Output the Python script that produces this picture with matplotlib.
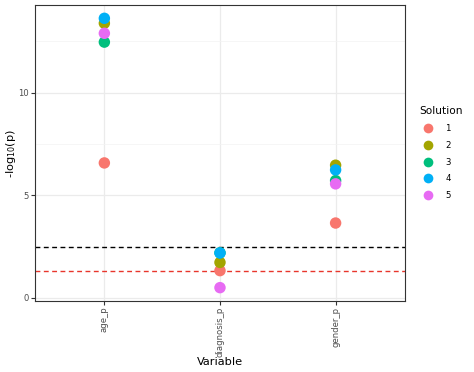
import numpy as np
import matplotlib
matplotlib.use('Agg')
import matplotlib.pyplot as plt
from matplotlib.lines import Line2D

variables = ['age_p', 'diagnosis_p', 'gender_p']
solutions = ['1', '2', '3', '4', '5']
colors = ['#F8766D', '#A3A500', '#00BF7D', '#00B0F6', '#E76BF3']

# -log10(p) for each solution, per variable (age, diagnosis, gender)
sol1 = [6.58, 1.33, 3.65]
sol2 = [13.39, 1.73, 6.47]
sol3 = [12.47, 2.20, 5.72]
sol4 = [13.63, 2.19, 6.24]
sol5 = [12.90, 0.50, 5.56]
values = [sol1, sol2, sol3, sol4, sol5]

bonf_line = -np.log10(0.05 / 15)
p05_line = -np.log10(0.05)

fig = plt.figure(figsize=(4.74, 3.72), dpi=100)
ax = fig.add_axes([0.0738, 0.1909, 0.7806, 0.7957])

x = np.arange(len(variables)) + 1
for i, vals in enumerate(values):
    ax.scatter(x, vals, s=68, color=colors[i], edgecolors='none', zorder=3 + i)

ax.axhline(bonf_line, color='black', linestyle=(0, (3.5, 2.5)), linewidth=1.0, zorder=2)
ax.axhline(p05_line, color='#E8362C', linestyle=(0, (3.5, 2.5)), linewidth=1.0, zorder=2)

ax.set_xlim(0.4, 3.6)
ax.set_ylim(-0.15, 14.28)
ax.set_xticks(x)
ax.set_xticklabels(variables, rotation=90, va='top', ha='center')
ax.set_yticks([0, 5, 10])
ax.set_yticks([2.5, 7.5, 12.5], minor=True)
ax.set_xticks([], minor=True)

ax.grid(True, which='major', color='#EBEBEB', linewidth=0.9, zorder=0)
ax.grid(True, which='minor', axis='y', color='#F3F3F3', linewidth=0.5, zorder=0)
ax.set_axisbelow(True)

ax.tick_params(axis='both', which='major', labelsize=6.1, labelcolor='#4D4D4D',
               color='#333333', length=2.7, width=0.8, pad=1.5)
ax.tick_params(axis='both', which='minor', length=0)
for sp in ax.spines.values():
    sp.set_color('#333333')
    sp.set_linewidth(0.8)

ax.set_xlabel('Variable', fontsize=8.2, va='center')
ax.set_ylabel('-log$_{10}$(p)', fontsize=8.2, va='center')
ax.xaxis.set_label_coords(0.5, -0.205)
ax.yaxis.set_label_coords(-0.065, 0.5)

handles = [Line2D([0], [0], marker='o', linestyle='none', markersize=7.0,
                  markerfacecolor=c, markeredgecolor='none') for c in colors]
leg = fig.legend(handles, solutions, title='Solution', loc='upper left',
                 bbox_to_anchor=(0.872, 0.73), frameon=False, fontsize=6.2,
                 title_fontsize=7.6, handletextpad=0.9, labelspacing=0.9,
                 handlelength=2.1, borderpad=0.2)
leg._legend_box.align = 'left'

fig.savefig('out.png', dpi=100)
